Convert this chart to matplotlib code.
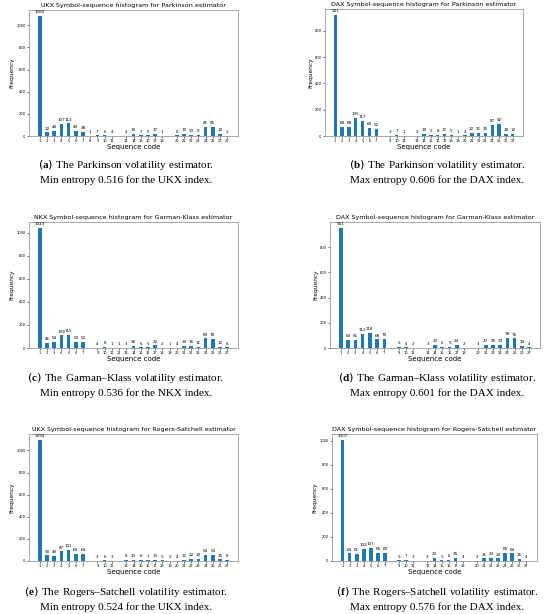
import matplotlib
matplotlib.use("Agg")
import matplotlib.pyplot as plt

plt.rcParams['mathtext.fontset'] = 'custom'
plt.rcParams['mathtext.rm'] = 'Liberation Serif'
plt.rcParams['mathtext.bf'] = 'Liberation Serif:bold'

codes_a = [1,2,3,4,5,6,7,8,9,10,11,13,14,15,16,17,18,20,21,22,23,24,25,26,27]
vals_a  = [1084,32,44,107,113,49,38,1,7,6,4,4,19,7,5,17,1,6,19,10,9,81,81,19,2]
codes_b = [1,2,3,4,5,6,7,9,10,11,13,14,15,16,17,18,19,20,21,22,23,24,25,26,27]
vals_b  = [921,69,68,135,117,60,52,3,7,1,3,19,5,8,17,5,1,4,22,21,25,87,92,18,12]
codes_c = [1,2,3,4,5,6,7,9,10,11,12,13,14,15,16,17,18,19,20,21,22,23,24,25,26,27]
vals_c  = [1043,46,54,109,115,53,52,4,8,1,1,3,18,6,5,22,2,1,4,19,16,11,83,78,12,6]
codes_d = [1,2,3,4,5,6,7,9,10,11,13,14,15,16,17,18,20,21,22,23,24,25,26,27]
vals_d  = [951,63,61,112,118,68,70,5,4,2,3,23,6,5,24,2,3,27,25,23,78,76,19,4]
codes_e = [1,2,3,4,5,6,7,9,10,11,13,14,15,16,17,18,19,20,21,22,23,24,25,26,27]
vals_e  = [1094,50,49,87,101,63,64,3,6,3,8,13,8,7,13,5,2,4,12,22,19,54,53,15,8]
codes_f = [1,2,3,4,5,6,7,9,10,11,13,14,15,16,17,18,20,21,22,23,24,25,26,27]
vals_f  = [1007,64,61,102,107,65,69,5,7,3,3,23,5,6,25,4,2,21,23,22,65,64,15,4]

titles = ["UKX Symbol-sequence histogram for Parkinson estimator",
          "DAX Symbol-sequence histogram for Parkinson estimator",
          "NKX Symbol-sequence histogram for Garman-Klass estimator",
          "DAX Symbol-sequence histogram for Garman-Klass estimator",
          "UKX Symbol-sequence histogram for Rogers-Satchell estimator",
          "DAX Symbol-sequence histogram for Rogers-Satchell estimator"]
cap1 = ["The Parkinson volatility estimator.", "The Parkinson volatility estimator.",
        "The Garman\u2013Klass volatility estimator.", "The Garman\u2013Klass volatility estimator.",
        "The Rogers\u2013Satchell volatility estimator.", "The Rogers\u2013Satchell volatility estimator."]
cap2 = ["Min entropy 0.516 for the UKX index.", "Max entropy 0.606 for the DAX index.",
        "Min entropy 0.536 for the NKX index.", "Max entropy 0.601 for the DAX index.",
        "Min entropy 0.524 for the UKX index.", "Max entropy 0.576 for the DAX index."]
letters = "abcdef"
data = [(codes_a, vals_a), (codes_b, vals_b), (codes_c, vals_c),
        (codes_d, vals_d), (codes_e, vals_e), (codes_f, vals_f)]

W, H = 550, 614
boxes = [(29, 10, 238, 136), (325, 9, 523, 136),
         (29, 222, 238, 348), (330, 222, 540, 348),
         (29, 434, 238, 561), (332, 434, 537, 561)]
capy = [(165, 180), (165, 180), (378, 393), (378, 393), (592, 607), (592, 607)]
capx = [126, 437, 126, 437, 126, 437]

fig = plt.figure(figsize=(W/100, H/100), dpi=100)
for i, ((c, v), (l, t, r, b)) in enumerate(zip(data, boxes)):
    ax = fig.add_axes([l/W, 1-b/H, (r-l)/W, (b-t)/H])
    ax.bar(c, v, width=0.5, color='#1f77b4')
    for x, y in zip(c, v):
        ax.text(x, y + 15, str(y), ha='center', va='bottom', fontsize=3)
    ax.set_xticks(c)
    ax.set_xticklabels([str(x) for x in c])
    ax.tick_params(labelsize=2.6, length=1.5, width=0.4, pad=1)
    ax.set_title(titles[i], fontsize=4.6, pad=2)
    ax.set_xlabel("Sequence code", fontsize=5, labelpad=0.5)
    ax.set_ylabel("Frequency", fontsize=4.2, labelpad=1)
    ax.set_yticks(range(0, max(v) + 1, 200))
    ax.set_xlim(-0.5, 28.5)
    ax.set_ylim(0, max(v) * 1.05)
    for s in ax.spines.values():
        s.set_color('#999999'); s.set_linewidth(0.6)
    y1, y2 = capy[i]
    fig.text(capx[i]/W, 1-y1/H, r"($\mathbf{%s}$) " % letters[i] + cap1[i].replace(' ', r'\ ').join(['$\mathrm{', '}$']),
             ha='center', va='center', fontsize=8)
    fig.text(capx[i]/W, 1-y2/H, cap2[i], ha='center', va='center', fontsize=8, family='Liberation Serif')

fig.savefig("out.png", dpi=100, facecolor='white')
